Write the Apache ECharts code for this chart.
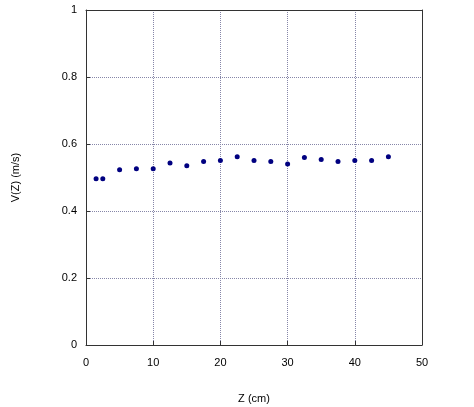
<!DOCTYPE html>
<html><head><meta charset="utf-8">
<script src="https://cdn.jsdelivr.net/npm/echarts@6/dist/echarts.min.js"></script>
<style>html,body{margin:0;padding:0;background:#fff}#c{width:474px;height:407px}</style>
</head><body><div id="c"></div>
<script>
const zValues = [1.5, 2.5, 5, 7.5, 10, 12.5, 15, 17.5, 20, 22.5, 25, 27.5, 30, 32.5, 35, 37.5, 40, 42.5, 45];
const vValues = [0.496, 0.496, 0.523, 0.526, 0.526, 0.543, 0.535, 0.548, 0.551, 0.562, 0.551, 0.548, 0.540, 0.560, 0.554, 0.548, 0.551, 0.551, 0.562];
const xTitle = 'Z (cm)';
const yTitle = 'V(Z) (m/s)';

const chart = echarts.init(document.getElementById('c'), null, {renderer: 'canvas'});
const font = 'Liberation Sans, Arial, sans-serif';
const gridLine = {show: true, lineStyle: {color: '#8686a8', type: [1, 1], width: 1}};
const frameAxis = {
  type: 'value', z: 5,
  axisLine: {show: true, onZero: false, lineStyle: {color: '#333'}},
  axisTick: {show: false}, axisLabel: {show: false}, splitLine: {show: false}
};
chart.setOption({
  animation: false,
  backgroundColor: '#fff',
  grid: {left: 86, right: 52, top: 10, bottom: 62, outerBoundsMode: 'none', containLabel: false, show: false},
  xAxis: [{
    type: 'value', min: 0, max: 50, interval: 10,
    name: xTitle, nameLocation: 'middle', nameGap: 48,
    nameTextStyle: {fontFamily: font, fontSize: 11, color: '#000'},
    axisLine: {show: true, onZero: false, lineStyle: {color: '#333'}},
    axisTick: {show: true, inside: true, length: 4, lineStyle: {color: '#333'}},
    axisLabel: {fontFamily: font, fontSize: 11, color: '#000', margin: 12},
    splitLine: gridLine
  }, Object.assign({position: 'top', min: 0, max: 50}, frameAxis)],
  yAxis: [{
    type: 'value', min: 0, max: 1, interval: 0.2,
    name: yTitle, nameLocation: 'middle', nameGap: 65, nameRotate: 90,
    nameTextStyle: {fontFamily: font, fontSize: 11, color: '#000'},
    axisLine: {show: true, onZero: false, lineStyle: {color: '#333'}},
    axisTick: {show: true, inside: true, length: 4, lineStyle: {color: '#333'}},
    axisLabel: {fontFamily: font, fontSize: 11, color: '#000', margin: 9},
    splitLine: gridLine
  }, Object.assign({position: 'right', min: 0, max: 1}, frameAxis)],
  series: [{
    type: 'scatter',
    data: zValues.map((z, i) => [z, vValues[i]]),
    symbol: 'circle', symbolSize: 5,
    itemStyle: {color: '#000080', opacity: 1}
  }]
});
</script></body></html>
